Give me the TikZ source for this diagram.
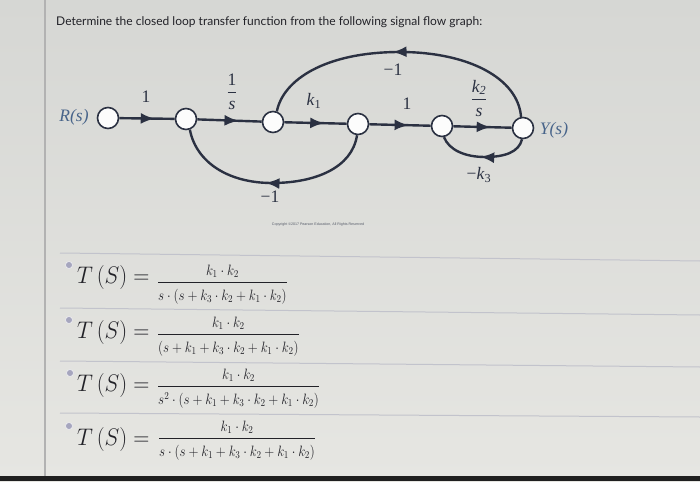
\RequirePackage{fix-cm}
\documentclass[tikz,border=0pt]{standalone}
\usepackage{graphicx}
\usepackage[no-math]{fontspec}
\setmainfont{Liberation Serif}
\newfontfamily\lato{Lato}
\newfontfamily\libsans{Liberation Sans}
\usetikzlibrary{arrows.meta,decorations.markings}
\definecolor{bgtop}{RGB}{214,215,212}
\definecolor{bgbot}{RGB}{230,230,226}
\definecolor{ink}{RGB}{43,49,66}
\definecolor{lbl}{RGB}{72,100,138}
\definecolor{txt}{RGB}{34,34,40}
\definecolor{sepline}{RGB}{194,195,204}
\definecolor{borderline}{RGB}{178,178,178}
\definecolor{bulletc}{RGB}{166,166,190}
\tikzset{
  sfnode/.style={circle, draw=ink, line width=1.6pt, fill=white!92!bgtop, minimum size=21pt, inner sep=0pt},
  flow/.style={color=ink, line width=2.4pt, postaction={decorate},
    decoration={markings, mark=at position #1 with {\arrow{Latex[length=14pt,width=11pt]}}}},
  flow/.default=0.64,
  gain/.style={text=ink, font=\fontsize{17.5}{19}\selectfont, inner sep=0pt},
  gainfrac/.style={gain, anchor=base},
  siglbl/.style={text=lbl, font=\fontsize{17.5}{19}\selectfont\itshape, inner sep=0pt},
  tsnode/.style={anchor=base west, text=txt, inner sep=0pt, font=\fontsize{24}{28}\selectfont},
  frnode/.style={anchor=base west, text=txt, inner sep=0pt, font=\fontsize{15}{17}\selectfont},
  radiob/.style={circle, fill=bulletc, draw=white!80!bulletc, line width=0.6pt, minimum size=7pt, inner sep=0pt},
  sepl/.style={draw=sepline, line width=1pt},
}
\newcommand{\tsq}{\scalebox{0.93}[1]{$T\,(S)=$}}
\newcommand{\frsq}[2]{\scalebox{0.87}[1]{$\displaystyle\frac{#1}{\rule{0pt}{17pt}#2}$}}
\begin{document}
\begin{tikzpicture}[x=1pt,y=-1pt]
\useasboundingbox (0,0) rectangle (700,481);
\shade[top color=bgtop, bottom color=bgbot] (0,0) rectangle (700,481);
\fill[black!88] (0,476) rectangle (700,481);
\draw[borderline, line width=1.2pt] (45,0) -- (45,476);

\node[anchor=west, font=\lato\fontsize{12}{14}\selectfont, text=txt, inner sep=0pt] (title) at (56,22)
  {Determine the closed loop transfer function from the following signal flow graph:};

% signal flow graph nodes
\node[sfnode] (R) at (108,118) {};
\node[sfnode] (n2) at (186,119) {};
\node[sfnode] (n3) at (273,122) {};
\node[sfnode] (n4) at (358,124) {};
\node[sfnode] (n5) at (442,126) {};
\node[sfnode] (Y) at (523,128) {};

\node[siglbl] (Rl) at (74,117) {R(s)};
\node[siglbl] (Yl) at (554,130) {Y(s)};

% forward branches
\draw[flow] (R) -- (n2);
\draw[flow] (n2) -- (n3);
\draw[flow] (n3) -- (n4);
\draw[flow] (n4) -- (n5);
\draw[flow] (n5) -- (Y);

% feedback branches
\draw[flow=0.53] (Y.100) .. controls (518,78) and (468,52) .. (400,52) .. controls (325,52) and (283,80) .. (n3.70);
\draw[flow=0.53] (n4.265) .. controls (352,168) and (315,183) .. (272,183) .. controls (228,183) and (196,162) .. (n2.290);
\draw[flow=0.53] (Y.265) .. controls (519,152) and (505,157) .. (485,157) .. controls (465,157) and (449,150) .. (n5.280);

% gains
\node[gain] (g1) at (146,97) {1};
\node[gainfrac] (g2) at (232,97) {$\displaystyle\frac{\mbox{1}}{\mbox{\itshape s}}$};
\node[gain] (g3) at (314,101) {\textit{k}\textsubscript{1}};
\node[gain] (g4) at (407,104) {1};
\node[gainfrac] (g5) at (479,104) {$\displaystyle\frac{\mbox{\itshape k\textsubscript{2}}}{\mbox{\itshape s}}$};
\node[gain] (g6) at (393,70) {−1};
\node[gain] (g7) at (270,197) {−1};
\node[gain] (g8) at (479,175) {−\textit{k}\textsubscript{3}};

\node[font=\libsans\fontsize{3.6}{4}\selectfont, text=ink!80, inner sep=0pt] (copy) at (318,225)
  {Copyright ©2017 Pearson Education, All Rights Reserved};

% answer options
\draw[sepl] (60,253) -- (700,261);
\draw[sepl] (60,308) -- (700,315);
\draw[sepl] (60,361) -- (700,367);
\draw[sepl] (60,413) -- (700,417);

\node[radiob] (b1) at (69,265) {};
\node[radiob] (b2) at (69,320) {};
\node[radiob] (b3) at (70,373) {};
\node[radiob] (b4) at (69,426) {};

\node[tsnode] (t1) at (77,283) {\tsq};
\node[tsnode] (t2) at (77,338) {\tsq};
\node[tsnode] (t3) at (77,391) {\tsq};
\node[tsnode] (t4) at (77,445) {\tsq};

\node[frnode] (f1) at (157,285.5) {\frsq{k_1\cdot k_2}{s\cdot(s+k_3\cdot k_2+k_1\cdot k_2)}};
\node[frnode] (f2) at (157,337.5) {\frsq{k_1\cdot k_2}{(s+k_1+k_3\cdot k_2+k_1\cdot k_2)}};
\node[frnode] (f3) at (157,389.5) {\frsq{k_1\cdot k_2}{s^2\cdot(s+k_1+k_3\cdot k_2+k_1\cdot k_2)}};
\node[frnode] (f4) at (158,441.5) {\frsq{k_1\cdot k_2}{s\cdot(s+k_1+k_3\cdot k_2+k_1\cdot k_2)}};
\end{tikzpicture}
\end{document}
